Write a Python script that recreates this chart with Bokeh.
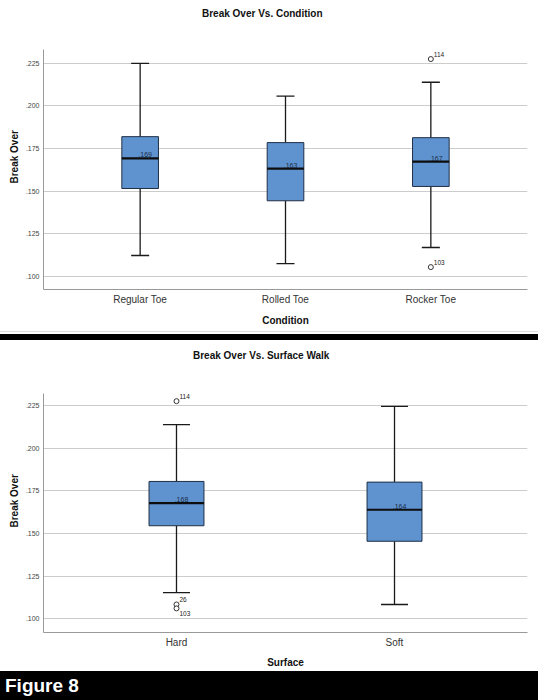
from bokeh.plotting import figure
from bokeh.models import ColumnDataSource, FactorRange, Range1d, FixedTicker, Div, LabelSet, Title
from bokeh.layouts import column
from bokeh.transform import dodge
from bokeh.core.properties import value
from bokeh.embed import file_html
from bokeh.resources import INLINE

# ---- data ----
cond_cats = ["Regular Toe", "Rolled Toe", "Rocker Toe"]
cond_lower = [0.1123, 0.1075, 0.1170]
cond_q1 = [0.1516, 0.1444, 0.1528]
cond_median = [0.1692, 0.1632, 0.1673]
cond_q3 = [0.1820, 0.1785, 0.1814]
cond_upper = [0.2250, 0.2058, 0.2139]
cond_median_labels = [".169", ".163", ".167"]
cond_out_cat = ["Rocker Toe", "Rocker Toe"]
cond_out_val = [0.2275, 0.1055]
cond_out_id = ["114", "103"]

surf_cats = ["Hard", "Soft"]
surf_lower = [0.1153, 0.1084]
surf_q1 = [0.1546, 0.1455]
surf_median = [0.1679, 0.1640]
surf_q3 = [0.1806, 0.1802]
surf_upper = [0.2139, 0.2246]
surf_median_labels = [".168", ".164"]
surf_out_cat = ["Hard", "Hard", "Hard"]
surf_out_val = [0.2277, 0.1084, 0.1061]
surf_out_id = ["114", "26", "103"]

y_ticks = [0.1, 0.125, 0.15, 0.175, 0.2, 0.225]
y_tick_labels = [".100", ".125", ".150", ".175", ".200", ".225"]

FONT = "Liberation Sans"
FONT_V = value(FONT)
BOX_FILL = "#5e93d0"
BOX_LINE = "#1f2f45"


def title_div(text, height, left):
    return Div(text=text, width=538, height=height, margin=0,
               styles={"font-family": FONT, "font-weight": "bold", "font-size": "10px",
                       "line-height": "%dpx" % height, "padding-left": "%dpx" % left,
                       "color": "#111111", "white-space": "nowrap"})


def boxplot(xlabel, cats, lower, q1, med, q3, upper, med_labels,
            out_cat, out_val, out_id, out_below, height, pad, y_range,
            borders, ylab_offset, xlab_standoff):
    p = figure(width=538, height=height,
               x_range=FactorRange(*cats, range_padding=pad, range_padding_units="absolute"),
               y_range=y_range, output_backend="svg", toolbar_location=None,
               min_border_left=borders[0], min_border_right=borders[1],
               min_border_top=borders[2], min_border_bottom=borders[3])
    src = ColumnDataSource(dict(cat=cats, lower=lower, q1=q1, med=med, q3=q3,
                                upper=upper, lab=med_labels))

    # stems
    p.segment("cat", "q3", "cat", "upper", source=src, line_color="#1a1a1a", line_width=1.3)
    p.segment("cat", "q1", "cat", "lower", source=src, line_color="#1a1a1a", line_width=1.3)
    # boxes
    p.vbar(x="cat", width=0.252, bottom="q1", top="q3", source=src,
           fill_color=BOX_FILL, line_color=BOX_LINE, line_width=1)
    # median
    p.segment(dodge("cat", -0.126, range=p.x_range), "med",
              dodge("cat", 0.126, range=p.x_range), "med", source=src,
              line_color="#0d0d0d", line_width=2.2)
    # whisker caps
    for col in ("upper", "lower"):
        p.segment(dodge("cat", -0.062, range=p.x_range), col,
                  dodge("cat", 0.062, range=p.x_range), col, source=src,
                  line_color="#1a1a1a", line_width=1.3)
    p.add_layout(LabelSet(x="cat", y="med", text="lab", source=src, x_offset=5, y_offset=1,
                          text_align="center", text_baseline="bottom", text_font_size="7px",
                          text_color="#1c2c44", text_font=FONT_V))

    osrc = ColumnDataSource(dict(cat=out_cat, val=out_val, id=out_id,
                                 dy=[-8 if b else 2 for b in out_below]))
    p.scatter(x="cat", y="val", source=osrc, marker="circle", size=5,
              fill_color="white", line_color="#333333", line_width=1)
    p.add_layout(LabelSet(x="cat", y="val", text="id", source=osrc, x_offset=3, y_offset="dy",
                          text_align="left", text_baseline="bottom", text_font_size="6.5px",
                          text_color="#222222", text_font=FONT_V))

    p.yaxis.ticker = FixedTicker(ticks=y_ticks)
    p.yaxis.major_label_overrides = dict(zip(y_ticks, y_tick_labels))
    p.yaxis.major_label_text_font_size = "7px"
    p.yaxis.major_label_text_color = "#444444"
    p.yaxis.major_label_standoff = 4

    # y label as a side title so it can sit above the frame centre like the original
    p.add_layout(Title(text="Break Over", align="left", offset=ylab_offset, standoff=5,
                       vertical_align="bottom", text_font=FONT, text_font_size="10px",
                       text_font_style="bold", text_color="#111111"), "left")

    p.xaxis.major_label_text_font_size = "10px"
    p.xaxis.major_label_text_color = "#333333"
    p.xaxis.major_label_standoff = 4
    p.xaxis.axis_label = xlabel
    p.xaxis.axis_label_standoff = xlab_standoff

    for ax in (p.xaxis, p.yaxis):
        ax.major_tick_out = 0
        ax.major_tick_in = 0
        ax.minor_tick_out = 0
        ax.minor_tick_in = 0
        ax.major_tick_line_color = None
        ax.minor_tick_line_color = None
        ax.axis_line_color = "#999999"
        ax.major_label_text_font = FONT
        ax.axis_label_text_font = FONT
        ax.axis_label_text_font_size = "10px"
        ax.axis_label_text_font_style = "bold"
        ax.axis_label_text_color = "#111111"

    p.xgrid.grid_line_color = None
    p.ygrid.ticker = FixedTicker(ticks=y_ticks)
    p.ygrid.grid_line_color = "#cccccc"
    p.outline_line_color = None
    return p


top_title = title_div("Break Over Vs. Condition", 28, 202)
top = boxplot("Condition", cond_cats, cond_lower, cond_q1,
              cond_median, cond_q3, cond_upper, cond_median_labels,
              cond_out_cat, cond_out_val, cond_out_id, [False, False],
              303, 0.165, Range1d(0.09237, 0.2331), (39, 11, 21, 42), 106, 7)

sep = Div(text="", width=538, height=9, margin=0,
          styles={"background": "linear-gradient(to bottom, #dddddd 0px, #dddddd 1px, "
                                "#ffffff 1px, #ffffff 3px, #000000 3px, #000000 9px)"})

bottom_title = title_div("Break Over Vs. Surface Walk", 32, 193)
bottom = boxplot("Surface", surf_cats, surf_lower, surf_q1,
                 surf_median, surf_q3, surf_upper, surf_median_labels,
                 surf_out_cat, surf_out_val, surf_out_id, [False, False, True],
                 299, 0.11, Range1d(0.09196, 0.2322), (43, 6, 21, 39), 105, 6)

band = Div(text="Figure 8", width=538, height=29, margin=0,
           styles={"background-color": "#000000", "color": "#ffffff",
                   "font-family": FONT, "font-weight": "bold", "font-size": "19px",
                   "line-height": "29px", "padding-left": "5px"})

layout = column(top_title, top, sep, bottom_title, bottom, band, spacing=0)
open("out.html", "w").write(file_html(layout, INLINE))
